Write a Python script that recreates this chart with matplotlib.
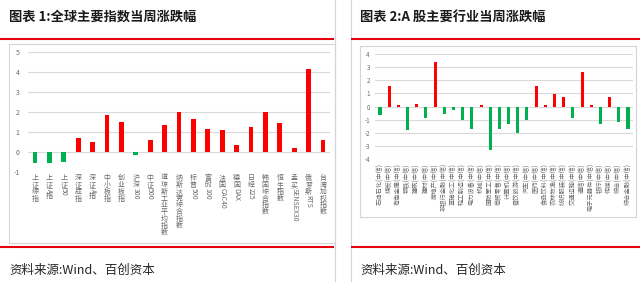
import matplotlib
matplotlib.use('Agg')
import matplotlib.pyplot as plt
from matplotlib.transforms import blended_transform_factory, ScaledTranslation
from matplotlib.textpath import TextPath
from matplotlib.font_manager import FontProperties

plt.rcParams['font.family'] = ['Noto Sans CJK SC', 'DejaVu Sans']

# ---------------- data ----------------
title1 = "图表 1:全球主要指数当周涨跌幅"
title2 = "图表 2:A 股主要行业当周涨跌幅"
source_text = "资料来源:Wind、百创资本"

index_names = ["上证综指", "上证A指", "上证50", "深证成指", "深证A指", "中小板指", "创业板指",
               "沪深300", "中证500", "道琼斯工业平均指数", "纳斯达克综合指数", "标普500", "富时100",
               "法国CAC40", "德国DAX", "日经225", "韩国综合指数", "恒生指数", "孟买SENSEX30",
               "俄罗斯RTS", "台湾加权指数"]
index_values = [-0.55, -0.55, -0.5, 0.7, 0.48, 1.85, 1.5, -0.15, 0.58, 1.35, 2.0, 1.65, 1.15,
                1.08, 0.33, 1.25, 2.0, 1.45, 0.2, 4.15, 0.6]
index_yticks = [-1, 0, 1, 2, 3, 4, 5]

industry_names = ["石油石化", "煤炭", "有色金属", "钢铁", "建筑", "建材", "房地产", "非银行金融",
                  "基础化工", "轻工制造", "电力设备", "机械", "国防军工", "商贸零售", "计算机",
                  "餐饮旅游", "汽车", "医药", "食品饮料", "农林牧渔", "纺织服装", "交通运输",
                  "通信", "电子元器件", "银行", "传媒", "综合", "综合金融"]
industry_suffix = "(中信)"
industry_values = [-0.65, 1.55, 0.1, -1.8, 0.2, -0.9, 3.4, -0.55, -0.3, -1.0, -1.75, 0.1,
                   -3.3, -1.75, -1.3, -2.0, -1.0, 1.55, 0.1, 0.95, 0.7, -0.85, 2.65, 0.1,
                   -1.3, 0.7, -1.2, -1.75]
industry_yticks = [-4, -3, -2, -1, 0, 1, 2, 3, 4]

# ---------------- style ----------------
RED = '#ff0000'
GREEN = '#00b050'
GRID = '#d9d9d9'
TICK = '#6a6a6a'
FRAME = '#d4d4d4'
LINE_RED = '#e60012'

W, H = 640, 282
fig = plt.figure(figsize=(W / 100, H / 100), dpi=100)


def rect(x0, y0, x1, y1):
    return [x0 / W, 1 - y1 / H, (x1 - x0) / W, (y1 - y0) / H]


# background layer in pixel coordinates
bg = fig.add_axes([0, 0, 1, 1], zorder=0)
bg.set_xlim(0, W)
bg.set_ylim(H, 0)
bg.axis('off')

for x in (334.5, 350.5):
    bg.plot([x, x], [0, H], color=FRAME, lw=0.8)
# chart boxes
bg.add_patch(plt.Rectangle((8.5, 43.5), 326, 199, fill=False, ec=FRAME, lw=0.8))
bg.add_patch(plt.Rectangle((359.5, 45.5), 276, 171, fill=False, ec=FRAME, lw=0.8))
# red rules
for (xa, xb) in ((0, 334), (351, 640)):
    bg.plot([xa, xb], [38.5, 38.5], color=LINE_RED, lw=1.5, solid_capstyle='butt')
    bg.plot([xa, xb], [247, 247], color=LINE_RED, lw=1.5, solid_capstyle='butt')

bg.text(9, 17, title1, fontsize=9.5, fontweight='bold', color='#1a1a1a', ha='left', va='center')
bg.text(360, 17, title2, fontsize=9.5, fontweight='bold', color='#1a1a1a', ha='left', va='center')
bg.text(9, 270, source_text, fontsize=9, color='#262626', ha='left', va='center')
bg.text(360, 270, source_text, fontsize=9, color='#262626', ha='left', va='center')

# ---------------- left chart ----------------
ax1 = fig.add_axes(rect(27.8, 52, 330.2, 172), zorder=2)
ax1.patch.set_alpha(0)
x1 = list(range(len(index_values)))
cols1 = [RED if v >= 0 else GREEN for v in index_values]
ax1.bar(x1, index_values, width=0.33, color=cols1, zorder=3)
ax1.set_xlim(-0.5, len(index_values) - 0.5)
ax1.set_ylim(-1, 5)
ax1.set_yticks(index_yticks)
ax1.set_yticklabels([str(t) for t in index_yticks])
for t in index_yticks:
    if t != -1:
        ax1.axhline(t, color=GRID, lw=0.8, zorder=1)
ax1.set_xticks([])
ax1.tick_params(axis='y', length=0, pad=6, labelsize=5, labelcolor=TICK)
for s in ax1.spines.values():
    s.set_visible(False)

# East-Asian vertical labels: CJK upright, latin runs rotated clockwise
FS = 5.0
fp = FontProperties(family=['Noto Sans CJK SC'], size=FS)
base = blended_transform_factory(ax1.transData, ax1.transAxes)


def runs_of(label):
    out = []
    for ch in label:
        cjk = ord(ch) > 0x2E80
        if out and not cjk and not out[-1][0]:
            out[-1][1] += ch
        else:
            out.append([cjk, ch])
    return out


for xi, lab in zip(x1, index_names):
    ypx = 3.0
    for cjk, run in runs_of(lab):
        if cjk:
            h = FS * 100 / 72 * 0.97
            off = ScaledTranslation(0, -(ypx + h / 2) / 100, fig.dpi_scale_trans)
            ax1.text(xi, 0, run, transform=base + off, ha='center', va='center',
                     fontsize=FS, color=TICK, clip_on=False)
            ypx += h
        else:
            w = TextPath((0, 0), run, size=FS, prop=fp).get_extents().width * 100 / 72 + 0.4
            off = ScaledTranslation(0, -(ypx + w / 2) / 100, fig.dpi_scale_trans)
            ax1.text(xi, 0, run, transform=base + off, ha='center', va='center',
                     fontsize=FS, color=TICK, rotation=-90, clip_on=False)
            ypx += w

# ---------------- right chart ----------------
ax2 = fig.add_axes(rect(375.4, 54, 632.6, 159), zorder=2)
ax2.patch.set_alpha(0)
x2 = list(range(len(industry_values)))
cols2 = [RED if v >= 0 else GREEN for v in industry_values]
ax2.bar(x2, industry_values, width=0.33, color=cols2, zorder=3)
ax2.set_xlim(-0.5, len(industry_values) - 0.5)
ax2.set_ylim(-4, 4)
ax2.set_yticks(industry_yticks)
ax2.set_yticklabels([str(t) for t in industry_yticks])
for t in industry_yticks:
    ax2.axhline(t, color=GRID, lw=0.8, zorder=1)
ax2.set_xticks(x2)
ax2.set_xticklabels([n + industry_suffix for n in industry_names], rotation=90,
                    ha='center', va='top')
ax2.tick_params(axis='y', length=0, pad=4, labelsize=4.5, labelcolor=TICK)
ax2.tick_params(axis='x', length=0, pad=3, labelsize=4.5, labelcolor=TICK)
for s in ax2.spines.values():
    s.set_visible(False)

fig.savefig('out.png', dpi=100)
